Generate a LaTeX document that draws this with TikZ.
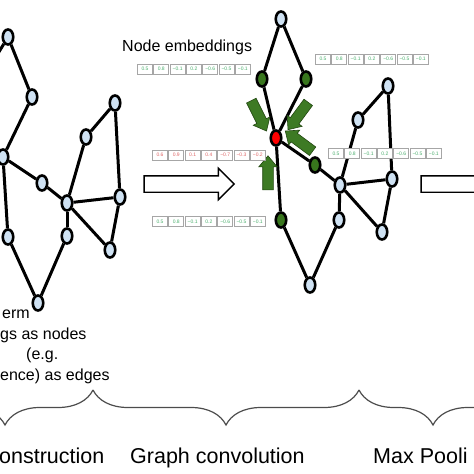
\documentclass[tikz,border=0pt]{standalone}
\usepackage{fontspec}
\setmainfont{Liberation Sans}
\usetikzlibrary{shapes.geometric,shapes.arrows,decorations.pathreplacing}

\definecolor{nodeblue}{HTML}{CFE2F3}
\definecolor{nodegreen}{HTML}{38761D}
\definecolor{arrowgreen}{HTML}{3D7A24}
\definecolor{embgreen}{HTML}{4CAF6E}
\definecolor{embred}{HTML}{E06666}

% one row of embedding values: name, left x, centre y, colour, values
\newcommand{\embrow}[5]{%
  \foreach \v [count=\i] in {#5}
    \node[embcell, text=#4] (#1-\i) at ({#2+8+(\i-1)*16.3}, #3) {\v};
}

\begin{document}
\begin{tikzpicture}[x=1pt, y=-1pt,
                    bnode/.style={ellipse, draw=black, line width=2.6pt, fill=nodeblue, minimum width=10.5pt, minimum height=15pt, inner sep=0pt},
                    gnode/.style={bnode, fill=nodegreen},
                    rnode/.style={bnode, fill=red},
                    link/.style={line width=3pt},
                    embcell/.style={rectangle, draw=black!35, line width=0.8pt, fill=white, minimum width=15pt, minimum height=10pt, inner sep=0pt, font=\fontsize{5}{5}\selectfont},
                    fatarrow/.style={single arrow, draw=nodegreen!60!black, line width=0.6pt, fill=arrowgreen, inner sep=5pt, single arrow head extend=4pt, single arrow tip angle=80, minimum height=34pt},
                    bigarrow/.style={single arrow, draw=black, line width=1.4pt, fill=white, inner sep=7.5pt, single arrow head extend=7.5pt, single arrow tip angle=90, minimum height=90pt},
                    phaselabel/.style={font=\fontsize{21.5}{25}\selectfont, anchor=base west, inner sep=0pt},
                    notetext/.style={font=\fontsize{16}{19}\selectfont, anchor=base west, inner sep=0pt},
                    phasebrace/.style={decorate, decoration={brace, mirror, amplitude=35pt}, line width=1.2pt, draw=black!70}]
    \useasboundingbox (0,0) rectangle (474,474);
    \clip (0,0) rectangle (474,474);

    % text graph
    \node[bnode] (l1) at (8,37) {};
    \node[bnode] (l2) at (32,97) {};
    \node[bnode] (l3) at (3,157) {};
    \node[bnode] (l4) at (86,137) {};
    \node[bnode] (l5) at (115,103) {};
    \node[bnode] (l6) at (42,183) {};
    \node[bnode] (l7) at (67,203) {};
    \node[bnode] (l8) at (120,197) {};
    \node[bnode] (l9) at (8,237) {};
    \node[bnode] (l10) at (67,236) {};
    \node[bnode] (l11) at (110,250) {};
    \node[bnode] (l12) at (38,303) {};
    \coordinate (l0) at (-6,60);
    \draw[link] (l1) -- (l0);
    \draw[link] (l1) -- (l2);
    \draw[link] (l2) -- (l3);
    \draw[link] (l3) -- (l6);
    \draw[link] (l6) -- (l7);
    \draw[link] (l3) -- (l9);
    \draw[link] (l9) -- (l12);
    \draw[link] (l12) -- (l10);
    \draw[link] (l10) -- (l7);
    \draw[link] (l7) -- (l4);
    \draw[link] (l4) -- (l5);
    \draw[link] (l5) -- (l8);
    \draw[link] (l7) -- (l8);
    \draw[link] (l7) -- (l11);
    \draw[link] (l11) -- (l8);

    % graph after convolution
    \node[bnode] (r1) at (281,19) {};
    \node[gnode] (r2) at (262,79) {};
    \node[gnode] (r3) at (306,79) {};
    \node[rnode] (r4) at (276,138) {};
    \node[gnode] (r5) at (315,165) {};
    \node[bnode] (r6) at (340,185) {};
    \node[bnode] (r7) at (392,179) {};
    \node[bnode] (r8) at (382,232) {};
    \node[bnode] (r9) at (339,220) {};
    \node[gnode] (r10) at (281,220) {};
    \node[bnode] (r11) at (310,285) {};
    \node[bnode] (r12) at (358,120) {};
    \node[bnode] (r13) at (388,86) {};
    \draw[link] (r1) -- (r2);
    \draw[link] (r1) -- (r3);
    \draw[link] (r2) -- (r4);
    \draw[link] (r3) -- (r4);
    \draw[link] (r4) -- (r5);
    \draw[link] (r5) -- (r6);
    \draw[link] (r4) -- (r10);
    \draw[link] (r10) -- (r11);
    \draw[link] (r11) -- (r9);
    \draw[link] (r9) -- (r6);
    \draw[link] (r6) -- (r7);
    \draw[link] (r6) -- (r8);
    \draw[link] (r8) -- (r7);
    \draw[link] (r6) -- (r12);
    \draw[link] (r12) -- (r13);
    \draw[link] (r13) -- (r7);

    % messages into the red node
    \node[fatarrow, rotate=-63.4] (m1) at (257.5,113) {};
    \node[fatarrow, rotate=-126.5] (m2) at (300,113.5) {};
    \node[fatarrow, rotate=143.5] (m3) at (301.5,143) {};
    \node[fatarrow, rotate=90] (m4) at (268,176) {};

    % embeddings
    \node[notetext] (emb) at (122,51) {Node embeddings};
    \embrow{e1}{137}{69}{embgreen}{0.5,0.8,−0.1,0.2,−0.6,−0.5,−0.1}
    \embrow{e2}{152}{155}{embred}{0.6,0.9,0.1,0.4,−0.7,−0.3,−0.2}
    \embrow{e3}{152}{221.5}{embgreen}{0.5,0.8,−0.1,0.2,−0.6,−0.5,−0.1}
    \embrow{e4}{315}{59}{embgreen}{0.5,0.8,−0.1,0.2,−0.6,−0.5,−0.1}
    \embrow{e5}{328}{153.5}{embgreen}{0.5,0.8,−0.1,0.2,−0.6,−0.5,−0.1}

    % steps
    \node[bigarrow] (s1) at (185,184) {};
    \node[bigarrow] (s2) at (462,184) {};

    \node[notetext] (t1) at (2,318) {erm};
    \node[notetext] (t2) at (0,339) {gs as nodes};
    \node[notetext] (t3) at (26,359.5) {(e.g.};
    \node[notetext] (t4) at (0,380) {ence) as edges};

    \draw[phasebrace] (-83,390) -- (93,390);
    \draw[phasebrace] (93,390) -- (359,390);
    \draw[phasebrace] (359,390) -- (507,390);
    \node[phaselabel] (p1) at (-1,463) {onstruction};
    \node[phaselabel] (p2) at (130,463) {Graph convolution};
    \node[phaselabel] (p3) at (373,463) {Max Pooli};
\end{tikzpicture}
\end{document}
